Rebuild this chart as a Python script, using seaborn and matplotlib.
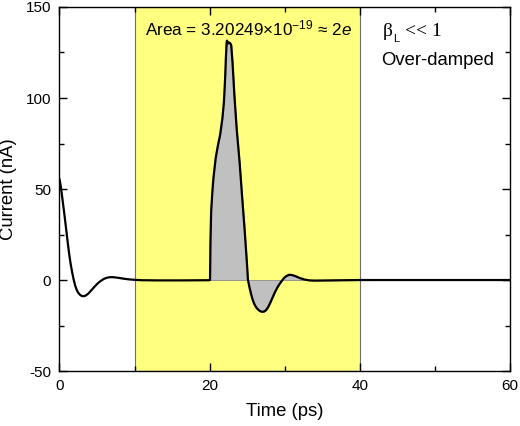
import matplotlib
matplotlib.use("Agg")
import matplotlib.pyplot as plt
from matplotlib.ticker import AutoMinorLocator
import numpy as np
import pandas as pd
import seaborn as sns

# ---- data ----
time_ps = [0, 0.15, 0.3, 0.5, 0.7, 0.9, 1.1, 1.3, 1.5, 1.7, 1.9, 2.1, 2.3, 2.5,
           2.75, 3.0, 3.25, 3.5, 3.8, 4.1, 4.4, 4.7, 5.0, 5.3, 5.6, 5.9, 6.2,
           6.6, 7.0, 7.5, 8.0, 8.6, 9.3, 10.0, 11, 13, 16, 19.9, 20.0,
           20.05, 20.1, 20.2, 20.35, 20.5, 20.8, 21.1, 21.4, 21.7, 21.9, 22.05,
           22.15, 22.25, 22.3, 22.45, 22.6, 22.75, 22.87, 23.04, 23.3, 23.6,
           24.0, 24.3, 24.65, 24.95, 25.1, 25.3, 25.5, 25.7, 25.9, 26.1, 26.3,
           26.6, 26.9, 27.2, 27.5, 27.8, 28.1, 28.4, 28.7, 29.0, 29.3, 29.6,
           29.9, 30.2, 30.6, 31.0, 31.5, 32.0, 32.6, 33.3, 34, 36, 40, 50, 60]
current_nA = [55.5, 52, 47.5, 41, 34.5, 27.5, 20.5, 14, 8.5, 4, 0, -3.2, -5.5, -7,
              -8.2, -8.8, -8.9, -8.5, -7.6, -6.3, -4.9, -3.5, -2.2, -1.1, -0.2, 0.6, 1.1,
              1.5, 1.6, 1.4, 1.1, 0.7, 0.35, 0.1, -0.1, -0.2, -0.2, -0.1, 0,
              0, 20, 38, 48, 56, 67, 74, 80, 89, 98, 110,
              121, 130, 131.5, 130, 130.5, 130, 129, 119.7, 101, 83,
              64, 47, 28, 10, 0, -4, -7.5, -10.5, -12.8, -14.4, -15.6,
              -16.8, -17.4, -17.4, -16.6, -14.8, -12.2, -9.4, -6.6, -4.2, -2.2, -0.5,
              1.1, 2.2, 2.9, 2.7, 2.0, 1.1, 0.3, -0.2, -0.3, -0.2, 0, 0, 0]
window = [10, 40]
fill_range = [20, 40]
x_ticks = [0, 20, 40, 60]
y_ticks = [-50, 0, 50, 100, 150]
area_label = 'Area = 3.20249×10$^{-19}$ ≈ 2$e$'
regime_label = 'Over-damped'

df = pd.DataFrame({"t": time_ps, "I": current_nA})

sns.set_style("ticks")
plt.rcParams['font.family'] = ['Liberation Sans', 'DejaVu Sans']
plt.rcParams['mathtext.fontset'] = 'custom'
plt.rcParams['mathtext.rm'] = 'Liberation Sans'
plt.rcParams['mathtext.it'] = 'Liberation Sans:italic'
plt.rcParams['mathtext.bf'] = 'Liberation Sans:bold'
plt.rcParams['axes.unicode_minus'] = False
for k in ['text.color', 'axes.labelcolor', 'xtick.color', 'ytick.color',
          'axes.edgecolor']:
    plt.rcParams[k] = 'black'

fig = plt.figure(figsize=(5.2, 4.26), dpi=100)
ax = fig.add_axes([0.1144, 0.129, 0.8664, 0.8546])

ax.axvspan(window[0], window[1], facecolor='#FFFF80', edgecolor='#707070',
           linewidth=0.8, zorder=0)

t = np.array(time_ps)
i = np.array(current_nA)
mask = (t >= fill_range[0]) & (t <= fill_range[1])
ax.fill_between(t, i, 0, where=mask, facecolor='#C0C0C0', edgecolor='#8a8a8a',
                linewidth=0.6, zorder=1)

sns.lineplot(data=df, x="t", y="I", ax=ax, color='black', linewidth=1.6,
             estimator=None, sort=False, zorder=3)

ax.set_xlim(0, 60)
ax.set_ylim(-50, 150)
ax.set_xticks(x_ticks)
ax.set_yticks(y_ticks)
ax.xaxis.set_minor_locator(AutoMinorLocator(2))
ax.yaxis.set_minor_locator(AutoMinorLocator(2))
ax.tick_params(which='both', direction='in', top=True, right=True, width=1,
               color='black')
ax.tick_params(which='major', length=6, pad=6, labelsize=11, labelcolor='black')
ax.tick_params(which='minor', length=3.5)
for s in ax.spines.values():
    s.set_linewidth(1.0)
    s.set_color('black')
    s.set_visible(True)

ax.set_xlabel('Time (ps)', fontsize=13.3, color='black')
ax.set_ylabel('Current (nA)', fontsize=13.3, color='black')
ax.xaxis.set_label_coords(0.5, -0.088)
ax.yaxis.set_label_coords(-0.094, 0.5)

ax.text(25.2, 138, area_label, fontsize=12.3, ha='center', va='center', zorder=5)

ax.text(43.0, 136.8, 'β', family='Liberation Serif', fontsize=14,
        ha='left', va='center', zorder=5)
ax.annotate('L', xy=(43.0, 136.8), xytext=(7.5, -6), textcoords='offset points',
            fontsize=8, ha='left', va='center', zorder=5)
ax.annotate('<< 1', xy=(43.0, 136.8), xytext=(16, 0), textcoords='offset points',
            family='Liberation Serif', fontsize=14, ha='left', va='center', zorder=5)
ax.text(42.8, 120.5, regime_label, fontsize=13.3, ha='left', va='center', zorder=5)

fig.savefig('out.png', dpi=100)
